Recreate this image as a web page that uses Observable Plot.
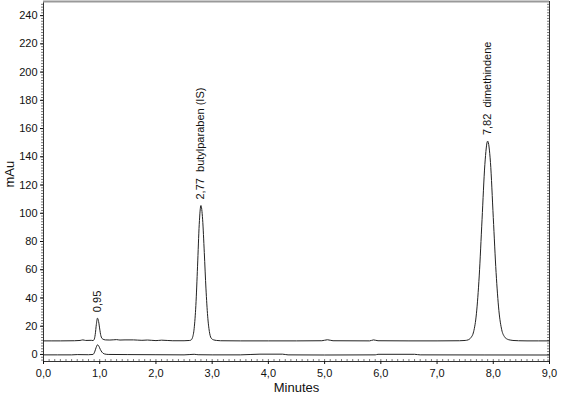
<!DOCTYPE html>
<html>
<head>
<meta charset="utf-8">
<script src="https://cdn.jsdelivr.net/npm/d3@7"></script>
<script src="https://cdn.jsdelivr.net/npm/@observablehq/plot@0.6"></script>
<style>
  html, body { margin: 0; padding: 0; background: #fff; }
</style>
</head>
<body>
<div id="chart"></div>
<script>
// Upper trace (sample) — time (min) and absorbance (mAu)
const upperT = [0.00, 0.30, 0.55, 0.65, 0.70, 0.75, 0.85, 0.88, 0.90, 0.92, 0.94, 0.96, 0.98, 1.00, 1.02, 1.05, 1.10, 1.18, 1.30, 1.36, 1.45, 1.60, 1.75, 1.85, 2.00, 2.10, 2.30, 2.50, 2.60, 2.62, 2.65, 2.68, 2.71, 2.74, 2.77, 2.80, 2.83, 2.86, 2.89, 2.92, 2.95, 2.98, 3.02, 3.08, 3.15, 3.50, 4.00, 4.50, 4.95, 5.05, 5.15, 5.80, 5.87, 5.95, 6.50, 7.00, 7.40, 7.50, 7.55, 7.60, 7.65, 7.70, 7.75, 7.80, 7.85, 7.90, 7.95, 8.00, 8.05, 8.10, 8.15, 8.20, 8.25, 8.30, 8.35, 8.45, 8.60, 9.00];
const upperV = [9.6, 9.6, 9.7, 9.9, 10.3, 9.9, 10.0, 9.8, 10.5, 14.1, 21.3, 25.7, 23.3, 18.0, 13.3, 11.0, 10.3, 10.2, 10.5, 10.2, 10.3, 10.3, 10.0, 10.2, 9.8, 10.1, 9.7, 9.7, 9.9, 10.1, 11.9, 18.5, 34.7, 62.5, 92.2, 105.5, 95.8, 72.2, 46.4, 27.1, 16.3, 11.7, 10.4, 9.9, 9.7, 9.6, 9.6, 9.6, 9.7, 10.4, 9.7, 9.6, 10.3, 9.7, 9.6, 9.6, 9.7, 9.9, 10.3, 11.8, 16.0, 28.8, 55.6, 95.4, 134.4, 151.1, 136.0, 97.0, 58.0, 31.0, 17.5, 12.5, 10.8, 10.2, 9.9, 9.7, 9.6, 9.6];

// Lower trace (blank)
const lowerT = [0.00, 0.50, 0.60, 0.80, 0.88, 0.91, 0.935, 0.96, 0.985, 1.01, 1.04, 1.08, 1.15, 1.50, 2.00, 2.50, 2.68, 2.75, 3.00, 3.50, 3.85, 4.25, 4.35, 5.00, 5.90, 5.95, 6.60, 6.70, 9.00];
const lowerV = [-0.3, -0.3, -0.1, -0.2, 0.0, 1.8, 4.8, 6.8, 5.8, 3.6, 1.6, 0.4, 0.0, -0.1, -0.2, -0.3, 0.1, -0.2, -0.3, -0.3, 0.2, 0.2, -0.3, -0.4, -0.3, 0.1, 0.1, -0.3, -0.4];

// Peak annotations
const peakTimes = [0.96, 2.80, 7.90];
const peakHeights = [25.7, 105.5, 151.1];
const peakLabels = ["0,95", "2,77  butylparaben (IS)", "7,82  dimethindene"];

// Axis ticks
const xTicks = [0, 1, 2, 3, 4, 5, 6, 7, 8, 9];
const yTicks = [0, 20, 40, 60, 80, 100, 120, 140, 160, 180, 200, 220, 240];
const xMinor = d3.range(0, 9.001, 0.1);
const yMinor = d3.range(-4, 250, 2);

const upper = upperT.map((t, i) => ({t, v: upperV[i]}));
const lower = lowerT.map((t, i) => ({t, v: lowerV[i]}));
const peaks = peakTimes.map((t, i) => ({t, v: peakHeights[i], label: peakLabels[i]}));

const fmt = d => d.toFixed(1).replace(".", ",");

const chart = Plot.plot({
  width: 568,
  height: 398,
  marginLeft: 43,
  marginRight: 19,
  marginTop: 1,
  marginBottom: 37,
  style: {fontFamily: "'Liberation Sans', Arial, sans-serif", fontSize: "11px", background: "#fff", color: "#111"},
  x: {domain: [0, 9]},
  y: {domain: [-5, 250]},
  marks: [
    // minor ticks
    Plot.ruleY(yMinor, {y: d => d, x1: -0.035, x2: 0, stroke: "#777", strokeWidth: 1}),
    Plot.ruleY(yMinor, {y: d => d, x1: 8.965, x2: 9, stroke: "#777", strokeWidth: 1}),
    Plot.ruleX(xMinor, {x: d => d, y1: -5, y2: -3.6, stroke: "#777", strokeWidth: 1}),
    // frame
    Plot.ruleX([0, 9], {y1: -5, y2: 250, stroke: "#333"}),
    Plot.ruleY([-5], {x1: 0, x2: 9, stroke: "#333"}),
    Plot.ruleY([250], {x1: 0, x2: 9, stroke: "#999", strokeWidth: 2}),
    // axes
    Plot.axisY(yTicks, {tickSize: 3, tickPadding: 3, label: null, fontSize: 11}),
    Plot.axisX(xTicks, {tickSize: 3, tickPadding: 5, tickFormat: fmt, label: null, fontSize: 11}),
    // traces
    Plot.line(upper, {x: "t", y: "v", stroke: "#222", strokeWidth: 1, curve: "monotone-x"}),
    Plot.line(lower, {x: "t", y: "v", stroke: "#222", strokeWidth: 1, curve: "monotone-x"}),
    // peak labels
    Plot.text(peaks, {x: "t", y: "v", text: "label", rotate: -90, textAnchor: "start", lineAnchor: "middle", dy: -6, fontSize: 11, fill: "#111"}),
    // axis titles
    Plot.text(["Minutes"], {frameAnchor: "bottom", dy: 26, fontSize: 13, lineAnchor: "middle", fill: "#111"}),
    Plot.text(["mAu"], {frameAnchor: "left", dx: -34, dy: 6, rotate: -90, fontSize: 13, lineAnchor: "middle", fill: "#111"})
  ]
});
document.getElementById("chart").appendChild(chart);
</script>
</body>
</html>
